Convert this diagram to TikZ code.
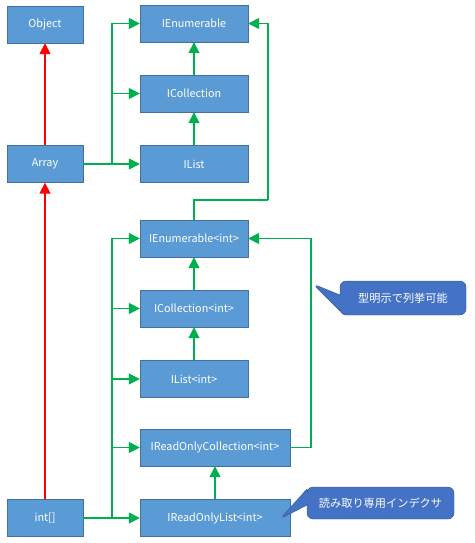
\documentclass[tikz,border=0pt]{standalone}
\usepackage{fontspec}
\setmainfont{Noto Sans CJK JP}
\usetikzlibrary{arrows.meta,shapes.callouts}
\definecolor{boxfill}{HTML}{5B9BD5}
\definecolor{boxline}{HTML}{41719C}
\definecolor{notefill}{HTML}{4472C4}
\definecolor{noteline}{HTML}{2F5597}
\definecolor{implgreen}{HTML}{00B050}
\begin{document}
\begin{tikzpicture}[x = 1pt, y = -1pt,
  box/.style = {draw = boxline, fill = boxfill, text = white, inner sep = 0pt, minimum height = 37pt, font = \fontsize{10.8}{12}\selectfont},
  note/.style = {rectangle callout, rounded corners = 6pt, draw = noteline, fill = notefill, text = white, inner sep = 0pt, font = \fontsize{11.2}{13}\selectfont},
  impl/.style = {implgreen, line width = 1.5pt, -{Triangle[length = 11pt, width = 11pt]}},
  impline/.style = {implgreen, line width = 1.5pt},
  inherit/.style = {red, line width = 1.5pt, -{Triangle[length = 11pt, width = 11pt]}}]
\useasboundingbox (0, 0) rectangle (474, 543);

% classes
\node[box, minimum width = 76pt] (object) at (45, 24.5) {Object};
\node[box, minimum width = 76pt] (array) at (45, 164) {Array};
\node[box, minimum width = 76pt] (intarr) at (45, 518) {int[]};

% non-generic interfaces
\node[box, minimum width = 108pt] (ienum) at (194, 23.5) {IEnumerable};
\node[box, minimum width = 108pt] (icoll) at (194, 93.5) {ICollection};
\node[box, minimum width = 108pt] (ilist) at (194, 164) {IList};

% generic interfaces
\node[box, minimum width = 108pt] (ienumt) at (194, 238.5) {IEnumerable<int>};
\node[box, minimum width = 108pt] (icollt) at (194, 308.5) {ICollection<int>};
\node[box, minimum width = 108pt] (ilistt) at (194, 379) {IList<int>};
\node[box, minimum width = 150pt] (irocoll) at (215, 447.5) {IReadOnlyCollection<int>};
\node[box, minimum width = 150pt] (irolist) at (215, 518) {IReadOnlyList<int>};

% bends
\coordinate (arrayjoin) at (112, 164);
\coordinate (intjoin) at (112, 518);
\coordinate (enumbend) at (268, 200);
\coordinate (rocollbend) at (311, 447.5);

% inheritance
\draw[inherit] (intarr.north) -- (array.south);
\draw[inherit] (array.north) -- (object.south);

% Array
\draw[impl] (array.east) -- (ilist.west);
\draw[impl] (arrayjoin) |- (icoll.west);
\draw[impl] (arrayjoin) |- (ienum.west);
\draw[impl] (icoll.north) -- (ienum.south);
\draw[impl] (ilist.north) -- (icoll.south);

% int[]
\draw[impl] (intarr.east) -- (irolist.west);
\draw[impl] (intjoin) |- (irocoll.west);
\draw[impl] (intjoin) |- (ilistt.west);
\draw[impl] (intjoin) |- (icollt.west);
\draw[impl] (intjoin) |- (ienumt.west);
\draw[impl] (icollt.north) -- (ienumt.south);
\draw[impl] (ilistt.north) -- (icollt.south);
\draw[impl] (irolist.north) -- (irocoll.south);
\draw[impline] (irocoll.east) -- (rocollbend);
\draw[impl] (rocollbend) |- (ienumt.east);
\draw[impline] (ienumt.north) |- (enumbend);
\draw[impl] (enumbend) |- (ienum.east);

% notes
\node[note, minimum width = 126pt, minimum height = 34pt, callout absolute pointer = {(313, 284)}, callout pointer width = 16pt] (typednote) at (403, 298) {型明示で列挙可能};
\node[note, minimum width = 147pt, minimum height = 32pt, callout absolute pointer = {(280, 519)}, callout pointer width = 16pt] (indexnote) at (380.5, 503) {読み取り専用インデクサ};
\end{tikzpicture}
\end{document}
